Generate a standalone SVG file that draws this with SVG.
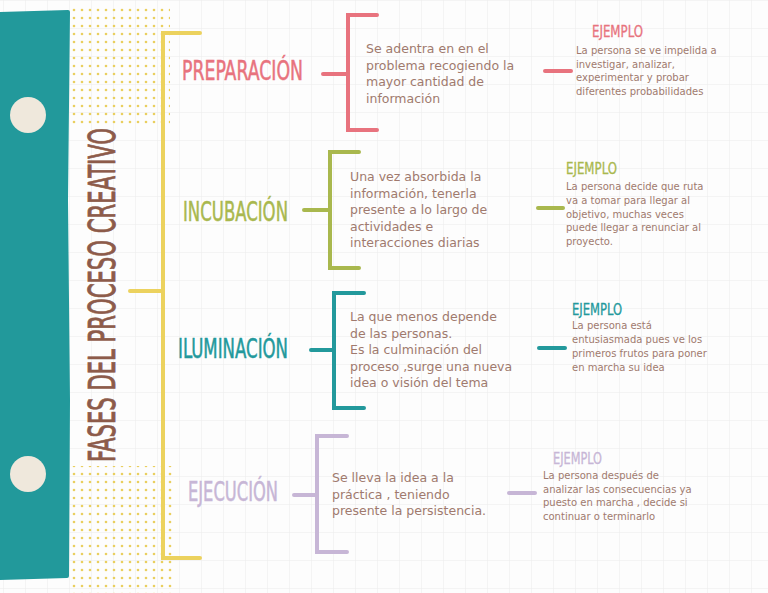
<svg xmlns="http://www.w3.org/2000/svg" width="768" height="593" viewBox="0 0 768 593">
<defs>
<pattern id="grid" x="3" y="0" width="22" height="28" patternUnits="userSpaceOnUse">
<path d="M0 0H22M0 0V28" fill="none" stroke="#ececec" stroke-width="1"/>
</pattern>
<pattern id="dots" x="70" y="6" width="8" height="8" patternUnits="userSpaceOnUse">
<circle cx="4" cy="4" r="1.3" fill="#e9cf5f"/>
</pattern>
<style>
.line{fill:none;stroke-width:4;stroke-linecap:round;stroke-linejoin:miter}
.head{font-family:"DejaVu Sans Condensed","DejaVu Sans","Liberation Sans",sans-serif;font-size:26px;stroke-width:0.5}
.ej{font-family:"DejaVu Sans Condensed","DejaVu Sans","Liberation Sans",sans-serif;font-size:16px;stroke-width:0.3}
.body{font-family:"DejaVu Sans","Liberation Sans",sans-serif;font-size:12.5px;fill:#a07a6e}
.ex{font-family:"DejaVu Sans","Liberation Sans",sans-serif;font-size:10px;fill:#a07a6e}
.pink{stroke:#e8737e}.olive{stroke:#a9b84e}.teal{stroke:#23999c}.lav{stroke:#c7b6d6}.yel{stroke:#ecd25e}
</style>
</defs>
<rect width="768" height="593" fill="#fdfdfd"/>
<rect width="768" height="593" fill="url(#grid)"/>
<rect x="70" y="6" width="100" height="120" fill="url(#dots)"/>
<rect x="70" y="466" width="104" height="127" fill="url(#dots)"/>
<g id="panel">
<path d="M0 12 L68 10 Q70 10 70 12 L68 200 L70 400 L69 576 Q69 578 67 578 L0 580 Z" fill="#22999b"/>
<circle cx="28" cy="115" r="18" fill="#efe8dc"/>
<circle cx="28" cy="474" r="18" fill="#efe8dc"/>
</g>
<g id="title">
<text transform="translate(115,295) rotate(-90)" text-anchor="middle" font-family="'DejaVu Sans Condensed','DejaVu Sans',sans-serif" font-size="37" fill="#8d5b4a" stroke="#8d5b4a" stroke-width="0.8" textLength="334" lengthAdjust="spacingAndGlyphs">FASES DEL PROCESO CREATIVO</text>
</g>
<g id="connectors">
<path class="line yel" d="M200 33 H163 V558 H200 M130 291 H163"/>
<path class="line pink" d="M377 15 H348 V130 H377 M323 74 H348"/>
<path class="line pink" d="M545 71 H571"/>
<path class="line olive" d="M359 152 H330 V268 H359 M304 210 H330"/>
<path class="line olive" d="M538 208 H563"/>
<path class="line teal" d="M364 293 H334 V408 H364 M311 350 H334"/>
<path class="line teal" d="M539 348 H565"/>
<path class="line lav" d="M347 436 H317 V552 H347 M294 495 H317"/>
<path class="line lav" d="M509 493 H535"/>
</g>
<g id="preparacion">
<text class="head pink" x="182" y="80" fill="#e8737e" textLength="121" lengthAdjust="spacingAndGlyphs">PREPARACIÓN</text>
<text class="body"><tspan x="366" y="53">Se adentra en en el</tspan><tspan x="366" y="69.5">problema recogiendo la</tspan><tspan x="366" y="86">mayor cantidad de</tspan><tspan x="366" y="102.5">información</tspan></text>
</g>
<g id="ejemplo1">
<text class="ej pink" x="592" y="37" fill="#e8737e" textLength="51" lengthAdjust="spacingAndGlyphs">EJEMPLO</text>
<text class="ex"><tspan x="576" y="54">La persona se ve impelida a</tspan><tspan x="576" y="67.5">investigar, analizar,</tspan><tspan x="576" y="81">experimentar y probar</tspan><tspan x="576" y="94.5">diferentes probabilidades</tspan></text>
</g>
<g id="incubacion">
<text class="head olive" x="183" y="221" fill="#a9b84e" textLength="105" lengthAdjust="spacingAndGlyphs">INCUBACIÓN</text>
<text class="body"><tspan x="350" y="181">Una vez absorbida la</tspan><tspan x="350" y="197.5">información, tenerla</tspan><tspan x="350" y="214">presente a lo largo de</tspan><tspan x="350" y="230.5">actividades e</tspan><tspan x="350" y="247">interacciones diarias</tspan></text>
</g>
<g id="ejemplo2">
<text class="ej olive" x="566" y="174" fill="#a9b84e" textLength="51" lengthAdjust="spacingAndGlyphs">EJEMPLO</text>
<text class="ex"><tspan x="566" y="190">La persona decide que ruta</tspan><tspan x="566" y="203.8">va a tomar para llegar al</tspan><tspan x="566" y="217.6">objetivo, muchas veces</tspan><tspan x="566" y="231.4">puede llegar a renunciar al</tspan><tspan x="566" y="245.2">proyecto.</tspan></text>
</g>
<g id="iluminacion">
<text class="head teal" x="178" y="358" fill="#23999c" textLength="110" lengthAdjust="spacingAndGlyphs">ILUMINACIÓN</text>
<text class="body"><tspan x="350" y="321">La que menos depende</tspan><tspan x="350" y="337.5">de las personas.</tspan><tspan x="350" y="354">Es la culminación del</tspan><tspan x="350" y="370.5">proceso ,surge una nueva</tspan><tspan x="350" y="387">idea o visión del tema</tspan></text>
</g>
<g id="ejemplo3">
<text class="ej teal" x="572" y="315" fill="#23999c" textLength="50" lengthAdjust="spacingAndGlyphs">EJEMPLO</text>
<text class="ex"><tspan x="572" y="329">La persona está</tspan><tspan x="572" y="343">entusiasmada pues ve los</tspan><tspan x="572" y="357">primeros frutos para poner</tspan><tspan x="572" y="371">en marcha su idea</tspan></text>
</g>
<g id="ejecucion">
<text class="head lav" x="188" y="501" fill="#c7b6d6" textLength="90" lengthAdjust="spacingAndGlyphs">EJECUCIÓN</text>
<text class="body"><tspan x="332" y="482">Se lleva la idea a la</tspan><tspan x="332" y="498.5">práctica , teniendo</tspan><tspan x="332" y="515">presente la persistencia.</tspan></text>
</g>
<g id="ejemplo4">
<text class="ej lav" x="553" y="464" fill="#c7b6d6" textLength="49" lengthAdjust="spacingAndGlyphs">EJEMPLO</text>
<text class="ex"><tspan x="543" y="479">La persona después de</tspan><tspan x="543" y="492.7">analizar las consecuencias ya</tspan><tspan x="543" y="506.4">puesto en marcha , decide si</tspan><tspan x="543" y="520.1">continuar o terminarlo</tspan></text>
</g>
</svg>
